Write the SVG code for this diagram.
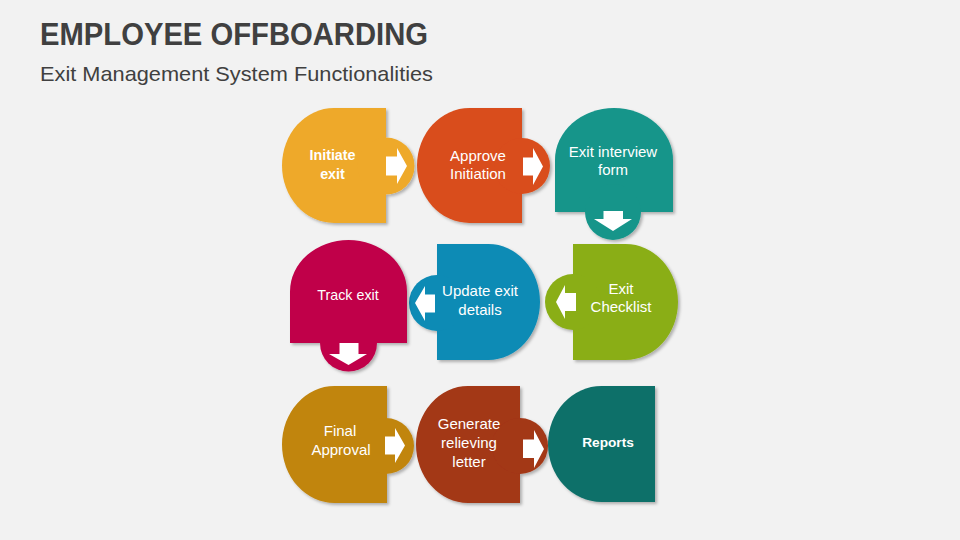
<svg xmlns="http://www.w3.org/2000/svg" width="960" height="540" viewBox="0 0 960 540">
<defs>
<filter id="sh" x="-10%" y="-10%" width="130%" height="130%">
<feDropShadow dx="2" dy="2" stdDeviation="1.5" flood-color="#000" flood-opacity="0.28"/>
</filter>
<style>
.title{font-family:"Liberation Sans",Arial,sans-serif;font-weight:bold;font-size:31px;fill:#404040}
.sub{font-family:"Liberation Sans",Arial,sans-serif;font-size:21px;fill:#404040}
.t{font-family:"Liberation Sans",Arial,sans-serif;font-size:15px;fill:#fff;text-anchor:middle}
.b{font-weight:bold;font-size:14.3px}
.arr{fill:#fff}
</style>
</defs>
<rect width="960" height="540" fill="#F2F2F2"/>
<text class="title" x="40" y="45" textLength="388" lengthAdjust="spacingAndGlyphs">EMPLOYEE OFFBOARDING</text>
<text class="sub" x="40" y="81" textLength="393" lengthAdjust="spacingAndGlyphs">Exit Management System Functionalities</text>

<g id="n1" filter="url(#sh)" fill="#EEA92A">
<path d="M386 108 H334 A52 57.5 0 0 0 334 223 H386 Z"/>
<circle cx="386" cy="166" r="28.5"/>
</g>
<g id="n2" filter="url(#sh)" fill="#D94D1B">
<path d="M522 108 H469.5 A52.5 57.5 0 0 0 469.5 223 H522 Z"/>
<circle cx="522" cy="166" r="28"/>
</g>
<g id="n3" filter="url(#sh)" fill="#14958A">
<path d="M555 212 V160 A59 52 0 0 1 673 160 V212 Z"/>
<circle cx="613" cy="212" r="28"/>
</g>
<g id="n4" filter="url(#sh)" fill="#8AAE17">
<path d="M573 244 H625.5 A52.5 58 0 0 1 625.5 360 H573 Z"/>
<circle cx="573" cy="302" r="28"/>
</g>
<g id="n5" filter="url(#sh)" fill="#0E8BB5">
<path d="M437 244 H488.5 A51.5 58 0 0 1 488.5 360 H437 Z"/>
<circle cx="437" cy="303" r="28"/>
</g>
<g id="n6" filter="url(#sh)" fill="#C0004A">
<path d="M290 343 V291.5 A58.5 51.5 0 0 1 407 291.5 V343 Z"/>
<circle cx="348.5" cy="343" r="28.5"/>
</g>
<g id="n7" filter="url(#sh)" fill="#C18511">
<path d="M387 386 H334.5 A52.5 58.5 0 0 0 334.5 503 H387 Z"/>
<circle cx="386" cy="446" r="28"/>
</g>
<g id="n8" filter="url(#sh)" fill="#A33716">
<path d="M520 386 H468 A52 58.5 0 0 0 468 503 H520 Z"/>
<circle cx="520" cy="446" r="28"/>
</g>
<g id="n9" filter="url(#sh)" fill="#0F6F69">
<path d="M655 386 H601.5 A53.5 58 0 0 0 601.5 502 H655 Z"/>
</g>

<g id="connectors" class="arr">
<path d="M386 156.5 H397 V148 L407 166 L397 184 V175.5 H386 Z"/>
<path d="M523 157.5 H533 V148 L543 166.5 L533 185 V175.5 H523 Z"/>
<path d="M603.5 211 H623 V219 H632 L613 231 L594 219 H603.5 Z"/>
<path d="M576 293 H565 V285 L556 302 L565 319 V311 H576 Z"/>
<path d="M435 294.5 H425 V286 L415 303 L425 321 V312.5 H435 Z"/>
<path d="M339.5 343 H358.5 V354 H367 L348.5 365 L329 354 H339.5 Z"/>
<path d="M385 436.5 H395 V428 L405 445.5 L395 463 V454.5 H385 Z"/>
<path d="M523 439.5 H534 V430 L544 449 L534 468 V458 H523 Z"/>
</g>

<g id="labels">
<text class="t b" x="332.5" y="160">Initiate</text>
<text class="t b" x="332.5" y="179">exit</text>
<text class="t" x="478" y="161">Approve</text>
<text class="t" x="478" y="179">Initiation</text>
<text class="t" x="613" y="157">Exit interview</text>
<text class="t" x="613" y="175">form</text>
<text class="t" x="621" y="294">Exit</text>
<text class="t" x="621" y="312">Checklist</text>
<text class="t" x="480" y="296">Update exit</text>
<text class="t" x="480" y="315">details</text>
<text class="t" x="348" y="300" style="font-size:14.3px">Track exit</text>
<text class="t" x="340" y="436">Final</text>
<text class="t" x="341" y="455">Approval</text>
<text class="t" x="469" y="429">Generate</text>
<text class="t" x="469" y="448">relieving</text>
<text class="t" x="469" y="467">letter</text>
<text class="t b" x="608" y="447" style="font-size:13.7px">Reports</text>
</g>
</svg>
